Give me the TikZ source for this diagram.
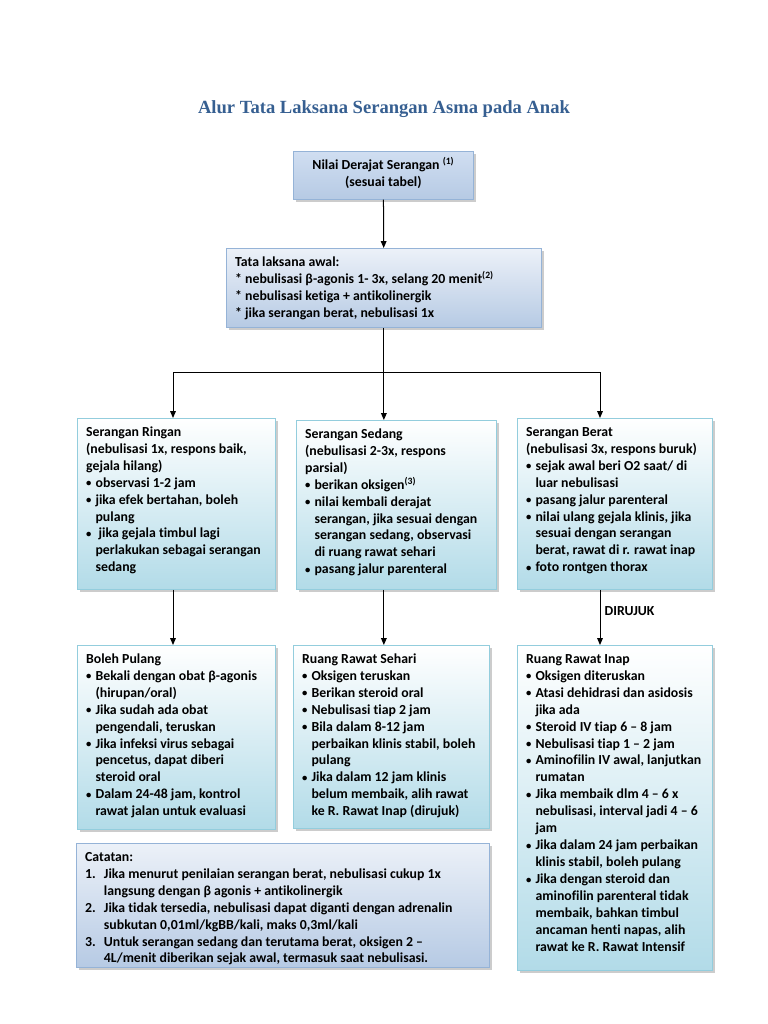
\documentclass[tikz,border=0pt]{standalone}
\usepackage{fontspec}
\setmainfont{Carlito}[Ligatures=NoCommon]
\newfontfamily\judulfont{Liberation Serif}
\usepackage{tikz}
\usetikzlibrary{arrows.meta,shadows}

\definecolor{judulbiru}{RGB}{54,95,145}
\definecolor{garisbiru}{RGB}{149,179,215}
\definecolor{garisaqua}{RGB}{147,205,221}
\definecolor{nilaiatas}{RGB}{208,222,241}
\definecolor{biruatas}{RGB}{236,241,248}
\definecolor{birubawah}{RGB}{182,202,228}
\definecolor{aquabawah}{RGB}{178,219,232}

% isi kotak: [perataan]{lebar}{tinggi}{teks}
\newcommand{\isi}[4][\raggedright]{\parbox[t][#3][t]{#2}{#1\rule{0pt}{10.7pt}#4}}
\newcommand{\br}{\hfil\break}
\newcommand{\butir}{\par\hangindent=7.5pt\hangafter=1\noindent\makebox[7.5pt][l]{\raisebox{0.4pt}{\fontsize{8.5}{8.5}\selectfont\textbullet}}}
\newcommand{\nomor}[1]{\par\hangindent=15pt\hangafter=1\noindent\makebox[15pt][l]{#1}}

\begin{document}
\begin{tikzpicture}[x=0.796875pt, y=-0.796875pt, line width=0.8pt,
    >={Triangle[length=5.5pt,width=4.5pt]},
    kotak/.style={draw=garisaqua, line width=0.6pt, top color=white, bottom color=aquabawah,
        anchor=north west, inner xsep=7pt, inner ysep=3.6pt, font=\fontsize{11}{13.5}\selectfont\bfseries,
        drop shadow={shadow xshift=1.8pt, shadow yshift=-1.8pt, fill=black!40, opacity=0.5}},
    kotakbiru/.style={kotak, draw=garisbiru, top color=biruatas, bottom color=birubawah}]
    \useasboundingbox (0,0) rectangle (768,1024);

    % judul
    \node[anchor=base, text=judulbiru, font=\judulfont\bfseries\fontsize{14.8}{17}\selectfont] (judul) at (384,113)
        {Alur Tata Laksana Serangan Asma pada Anak};

    % derajat serangan dan tata laksana awal
    \node[kotakbiru, top color=nilaiatas] (nilai) at (293,151)
        {\isi[\centering]{129.4pt}{31pt}{Nilai Derajat Serangan \textsuperscript{(1)}\\(sesuai tabel)}};
    \node[kotakbiru] (awal) at (226,248)
        {\isi{237pt}{55.8pt}{Tata laksana awal:\br
        * nebulisasi β-agonis 1- 3x, selang 20 menit\textsuperscript{(2)}\br
        * nebulisasi ketiga + antikolinergik\br
        * jika serangan berat, nebulisasi 1x}};

    % tiga derajat serangan
    \node[kotak] (ringan) at (77,418)
        {\isi{143.8pt}{129.1pt}{Serangan Ringan\br
        (nebulisasi 1x, respons baik,\br gejala hilang)
        \butir observasi 1-2 jam
        \butir jika efek bertahan, boleh\br pulang
        \butir\ jika gejala timbul lagi\br perlakukan sebagai serangan\br sedang}};
    \node[kotak] (sedang) at (296,420)
        {\isi{145.4pt}{127.5pt}{Serangan Sedang\br
        (nebulisasi 2-3x, respons\br parsial)
        \butir berikan oksigen\textsuperscript{(3)}
        \butir nilai kembali derajat\br serangan, jika sesuai dengan\br serangan sedang, observasi\br di ruang rawat sehari
        \butir pasang jalur parenteral}};
    \node[kotak] (berat) at (517,418)
        {\isi{141.4pt}{129.1pt}{Serangan Berat\br
        (nebulisasi 3x, respons buruk)
        \butir sejak awal beri O2 saat/ di\br luar nebulisasi
        \butir pasang jalur parenteral
        \butir nilai ulang gejala klinis, jika\br sesuai dengan serangan\br berat, rawat di r. rawat inap
        \butir foto rontgen thorax}};

    % tindak lanjut
    \node[kotak] (pulang) at (77,645)
        {\isi{143.8pt}{139.4pt}{Boleh Pulang
        \butir Bekali dengan obat β-agonis\br (hirupan/oral)
        \butir Jika sudah ada obat\br pengendali, teruskan
        \butir Jika infeksi virus sebagai\br pencetus, dapat diberi\br steroid oral
        \butir Dalam 24-48 jam, kontrol\br rawat jalan untuk evaluasi}};
    \node[kotak] (sehari) at (293,645)
        {\isi{142.2pt}{138.6pt}{Ruang Rawat Sehari
        \butir Oksigen teruskan
        \butir Berikan steroid oral
        \butir Nebulisasi tiap 2 jam
        \butir Bila dalam 8-12 jam\br perbaikan klinis stabil, boleh\br pulang
        \butir Jika dalam 12 jam klinis\br belum membaik, alih rawat\br ke R. Rawat Inap (dirujuk)}};
    \node[kotak] (inap) at (517,645)
        {\isi{141.4pt}{251.8pt}{Ruang Rawat Inap
        \butir Oksigen diteruskan
        \butir Atasi dehidrasi dan asidosis\br jika ada
        \butir Steroid IV tiap 6 – 8 jam
        \butir Nebulisasi tiap 1 – 2 jam
        \butir Aminofilin IV awal, lanjutkan\br rumatan
        \butir Jika membaik dlm 4 – 6 x\br nebulisasi, interval jadi 4 – 6\br jam
        \butir Jika dalam 24 jam perbaikan\br klinis stabil, boleh pulang
        \butir Jika dengan steroid dan\br aminofilin parenteral tidak\br membaik, bahkan timbul\br ancaman henti napas, alih\br rawat ke R. Rawat Intensif}};

    % catatan
    \node[kotakbiru] (catatan) at (76,843)
        {\isi{315.1pt}{91.6pt}{Catatan:
        \nomor{1.}Jika menurut penilaian serangan berat, nebulisasi cukup 1x\br langsung dengan β agonis + antikolinergik
        \nomor{2.}Jika tidak tersedia, nebulisasi dapat diganti dengan adrenalin\br subkutan 0,01ml/kgBB/kali, maks 0,3ml/kali
        \nomor{3.}Untuk serangan sedang dan terutama berat, oksigen 2 –\br 4L/menit diberikan sejak awal, termasuk saat nebulisasi.}};

    % panah penghubung
    \coordinate (kiri) at (173,372);
    \coordinate (kanan) at (600,372);
    \draw[->] (nilai) -- (awal);
    \draw[->] (awal.south) -- (awal.south |- sedang.north);
    \draw (kiri) -- (kanan);
    \draw[->] (kiri) -- (kiri |- ringan.north);
    \draw[->] (kanan) -- (kanan |- berat.north);
    \draw[->] (ringan.south -| kiri) -- (pulang.north -| kiri);
    \draw[->] (sedang.south -| awal.south) -- (sehari.north -| awal.south);
    \draw[->] (berat.south -| kanan) -- node[pos=0.38, right, font=\fontsize{11}{13.5}\selectfont\bfseries] (rujuk) {DIRUJUK} (inap.north -| kanan);
\end{tikzpicture}
\end{document}
